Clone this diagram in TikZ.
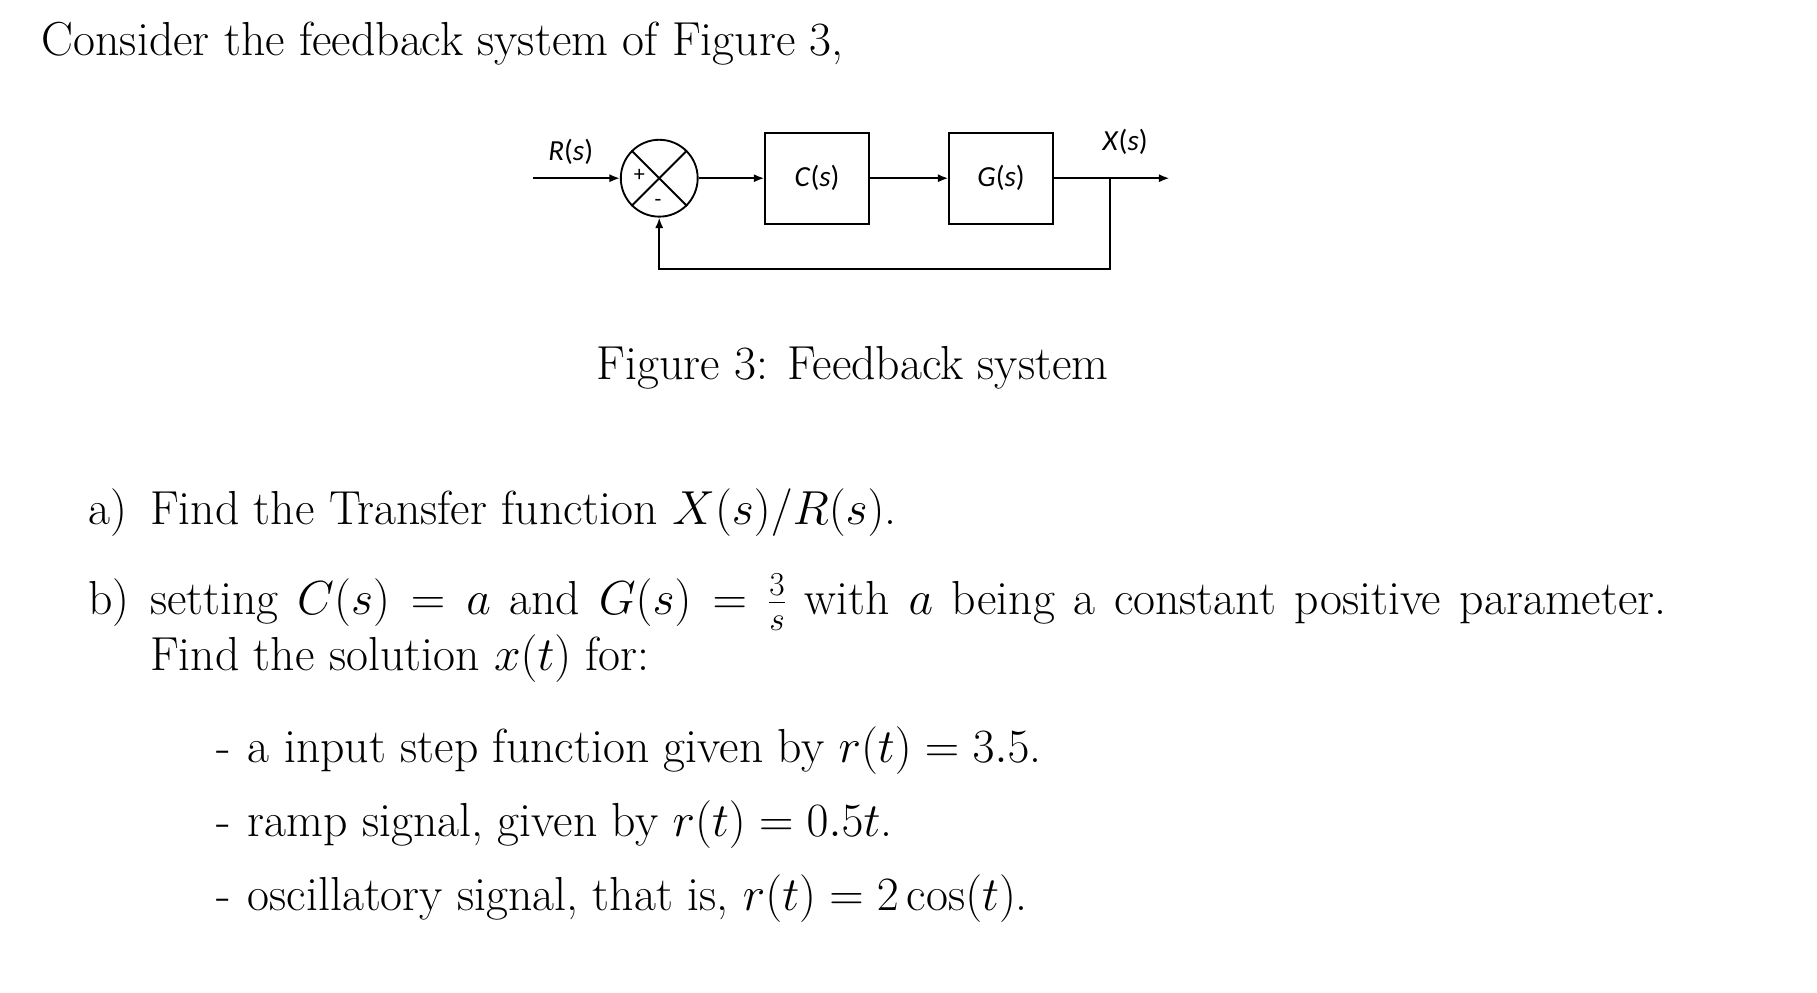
\documentclass[tikz,border=0pt]{standalone}
\usepackage{fix-cm}
\usepackage{fontspec}
\newfontfamily\diagfont{Carlito}
\usetikzlibrary{arrows.meta}
\tikzset{every picture/.style={line width=1.6pt}}
\tikzset{
  blk/.style={draw, minimum width=89pt, minimum height=78pt, inner sep=0pt},
  lbl/.style={font=\diagfont\fontsize{25}{28}\selectfont, inner sep=0pt},
  txt/.style={anchor=base west, inner sep=0pt, font=\fontsize{41}{48}\selectfont},
  sig/.style={-{Latex[length=9pt,width=7pt]}}
}
\begin{document}
\begin{tikzpicture}[x=1pt,y=1pt,yscale=-1,xscale=1]
\useasboundingbox (0,0) rectangle (1560,852);

% Text Node
\node [txt] (intro) at (35,48) {Consider the feedback system of Figure 3,};

% block diagram
\node [draw, circle, minimum size=66pt, inner sep=0pt] (sum) at (566,153) {};
\draw (sum.north west) -- (sum.south east);
\draw (sum.north east) -- (sum.south west);
\node [lbl, font=\diagfont\fontsize{19}{22}\selectfont] (plus) at (549,151) {+};
\node [lbl, font=\diagfont\fontsize{19}{22}\selectfont] (minus) at (565,174) {-};
\node [blk] (cblk) at (701.5,153) {};
\node [lbl] (ctxt) at (701.5,153) {\textit{C}(\textit{s})};
\node [blk] (gblk) at (859.5,153) {};
\node [lbl] (gtxt) at (859.5,153) {\textit{G}(\textit{s})};
\coordinate (in) at (458,153);
\coordinate (out) at (1004,153);
\coordinate (tap) at (953,153);
\coordinate (bot) at (953,231);
\node [lbl] (rlab) at (490,130) {\textit{R}(\textit{s})};
\node [lbl] (xlab) at (966,122) {\textit{X}(\textit{s})};
\draw [sig] (in) -- (sum);
\draw [sig] (sum) -- (cblk);
\draw [sig] (cblk) -- (gblk);
\draw [sig] (gblk) -- (out);
\draw [sig] (tap) -- (bot) -| (sum.south);

% Text Node
\node [txt, anchor=base] (cap) at (732,326) {Figure 3: Feedback system};
\node [txt] (qa) at (75,450) {a)};
\node [txt] (qatxt) at (128,450) {Find the Transfer function $X(s)/R(s)$.};
\node [txt] (qb) at (75,528) {b)};
\node [txt, anchor=north west, text width=1302pt, align=justify] (qbtxt) at (128,492)
  {setting $C(s)=a$ and $G(s)=\frac{3}{s}$ with $a$ being a constant positive parameter.\linebreak Find the solution $x(t)$ for:};
\node [txt] (d1) at (185,655) {-};
\node [txt] (i1) at (212,655) {a input step function given by $r(t)=3.5$.};
\node [txt] (d2) at (185,718) {-};
\node [txt] (i2) at (212,718) {ramp signal, given by $r(t)=0.5t$.};
\node [txt] (d3) at (185,782) {-};
\node [txt] (i3) at (212,782) {oscillatory signal, that is, $r(t)=2\cos(t)$.};
\end{tikzpicture}
\end{document}
